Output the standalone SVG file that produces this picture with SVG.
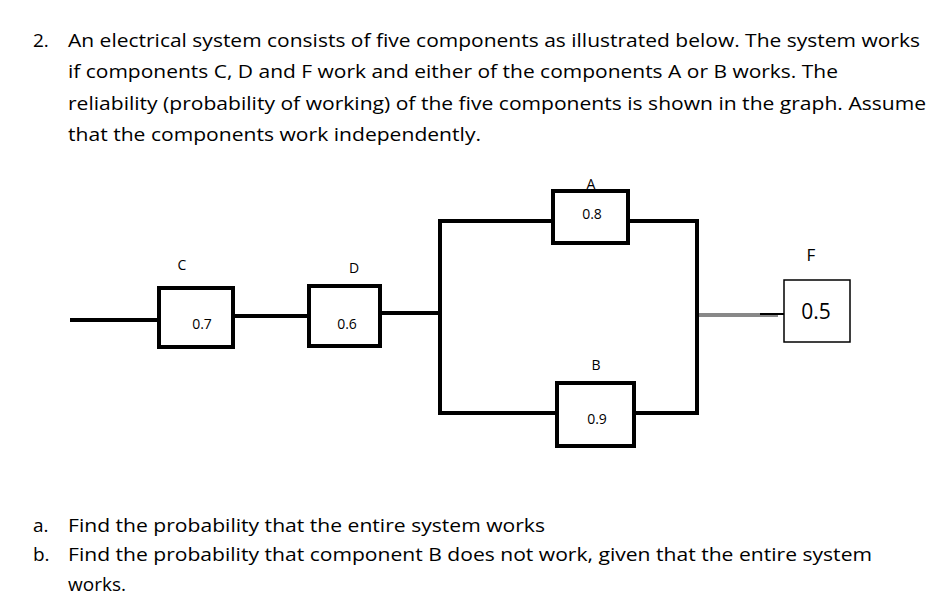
<svg xmlns="http://www.w3.org/2000/svg" width="946" height="603" viewBox="0 0 946 603">
<style>
.t{font-family:"Open Sans","Liberation Sans",sans-serif;font-size:19px;fill:#000}
.l{font-family:"Open Sans","Liberation Sans",sans-serif;font-size:14px;fill:#000;text-anchor:middle}
.b{fill:#fff;stroke:#000;stroke-width:4}
.w{fill:none;stroke:#000;stroke-width:4}
</style>
<rect width="946" height="603" fill="#fff"/>
<g id="question">
<text class="t" x="33" y="47">2.</text>
<text class="t" x="68" y="47" textLength="852" lengthAdjust="spacingAndGlyphs">An electrical system consists of five components as illustrated below. The system works</text>
<text class="t" x="68" y="78" textLength="770" lengthAdjust="spacingAndGlyphs">if components C, D and F work and either of the components A or B works. The</text>
<text class="t" x="68" y="110" textLength="858" lengthAdjust="spacingAndGlyphs">reliability (probability of working) of the five components is shown in the graph. Assume</text>
<text class="t" x="68" y="141" textLength="413" lengthAdjust="spacingAndGlyphs">that the components work independently.</text>
</g>
<g id="connectors">
<polyline class="w" points="70,320 159,320"/>
<polyline class="w" points="233,316 309,316"/>
<polyline class="w" points="380,313 440,313"/>
<polyline class="w" points="553,221 440,221 440,413 557,413"/>
<polyline class="w" points="628,221 697,221 697,413 634,413"/>
<line x1="699" y1="315" x2="778" y2="315" stroke="#888" stroke-width="4"/>
<line x1="760" y1="314" x2="788" y2="314" stroke="#000" stroke-width="2"/>
</g>
<g id="C"><rect class="b" x="159" y="288" width="74" height="59"/><text class="l" x="182" y="270">C</text><text class="l" x="202" y="329">0.7</text></g>
<g id="D"><rect class="b" x="309" y="286" width="71" height="60"/><text class="l" x="354" y="273">D</text><text class="l" x="347" y="329">0.6</text></g>
<g id="A"><rect class="b" x="553" y="191" width="75" height="52"/><text class="l" x="591" y="189">A</text><text class="l" x="592" y="219">0.8</text></g>
<g id="B"><rect class="b" x="557" y="383" width="77" height="63"/><text class="l" x="596" y="370">B</text><text class="l" x="597" y="424">0.9</text></g>
<g id="F"><rect x="784" y="280" width="66" height="62" fill="#fff" stroke="#000" stroke-width="1.5"/><text class="l" x="811" y="261" style="font-size:17px">F</text><text class="l" x="816" y="319" style="font-size:21px">0.5</text></g>
<g id="parts">
<text class="t" x="33" y="532">a.</text>
<text class="t" x="68" y="532" textLength="477" lengthAdjust="spacingAndGlyphs">Find the probability that the entire system works</text>
<text class="t" x="33" y="561">b.</text>
<text class="t" x="68" y="561" textLength="804" lengthAdjust="spacingAndGlyphs">Find the probability that component B does not work, given that the entire system</text>
<text class="t" x="68" y="591">works.</text>
</g>
</svg>
